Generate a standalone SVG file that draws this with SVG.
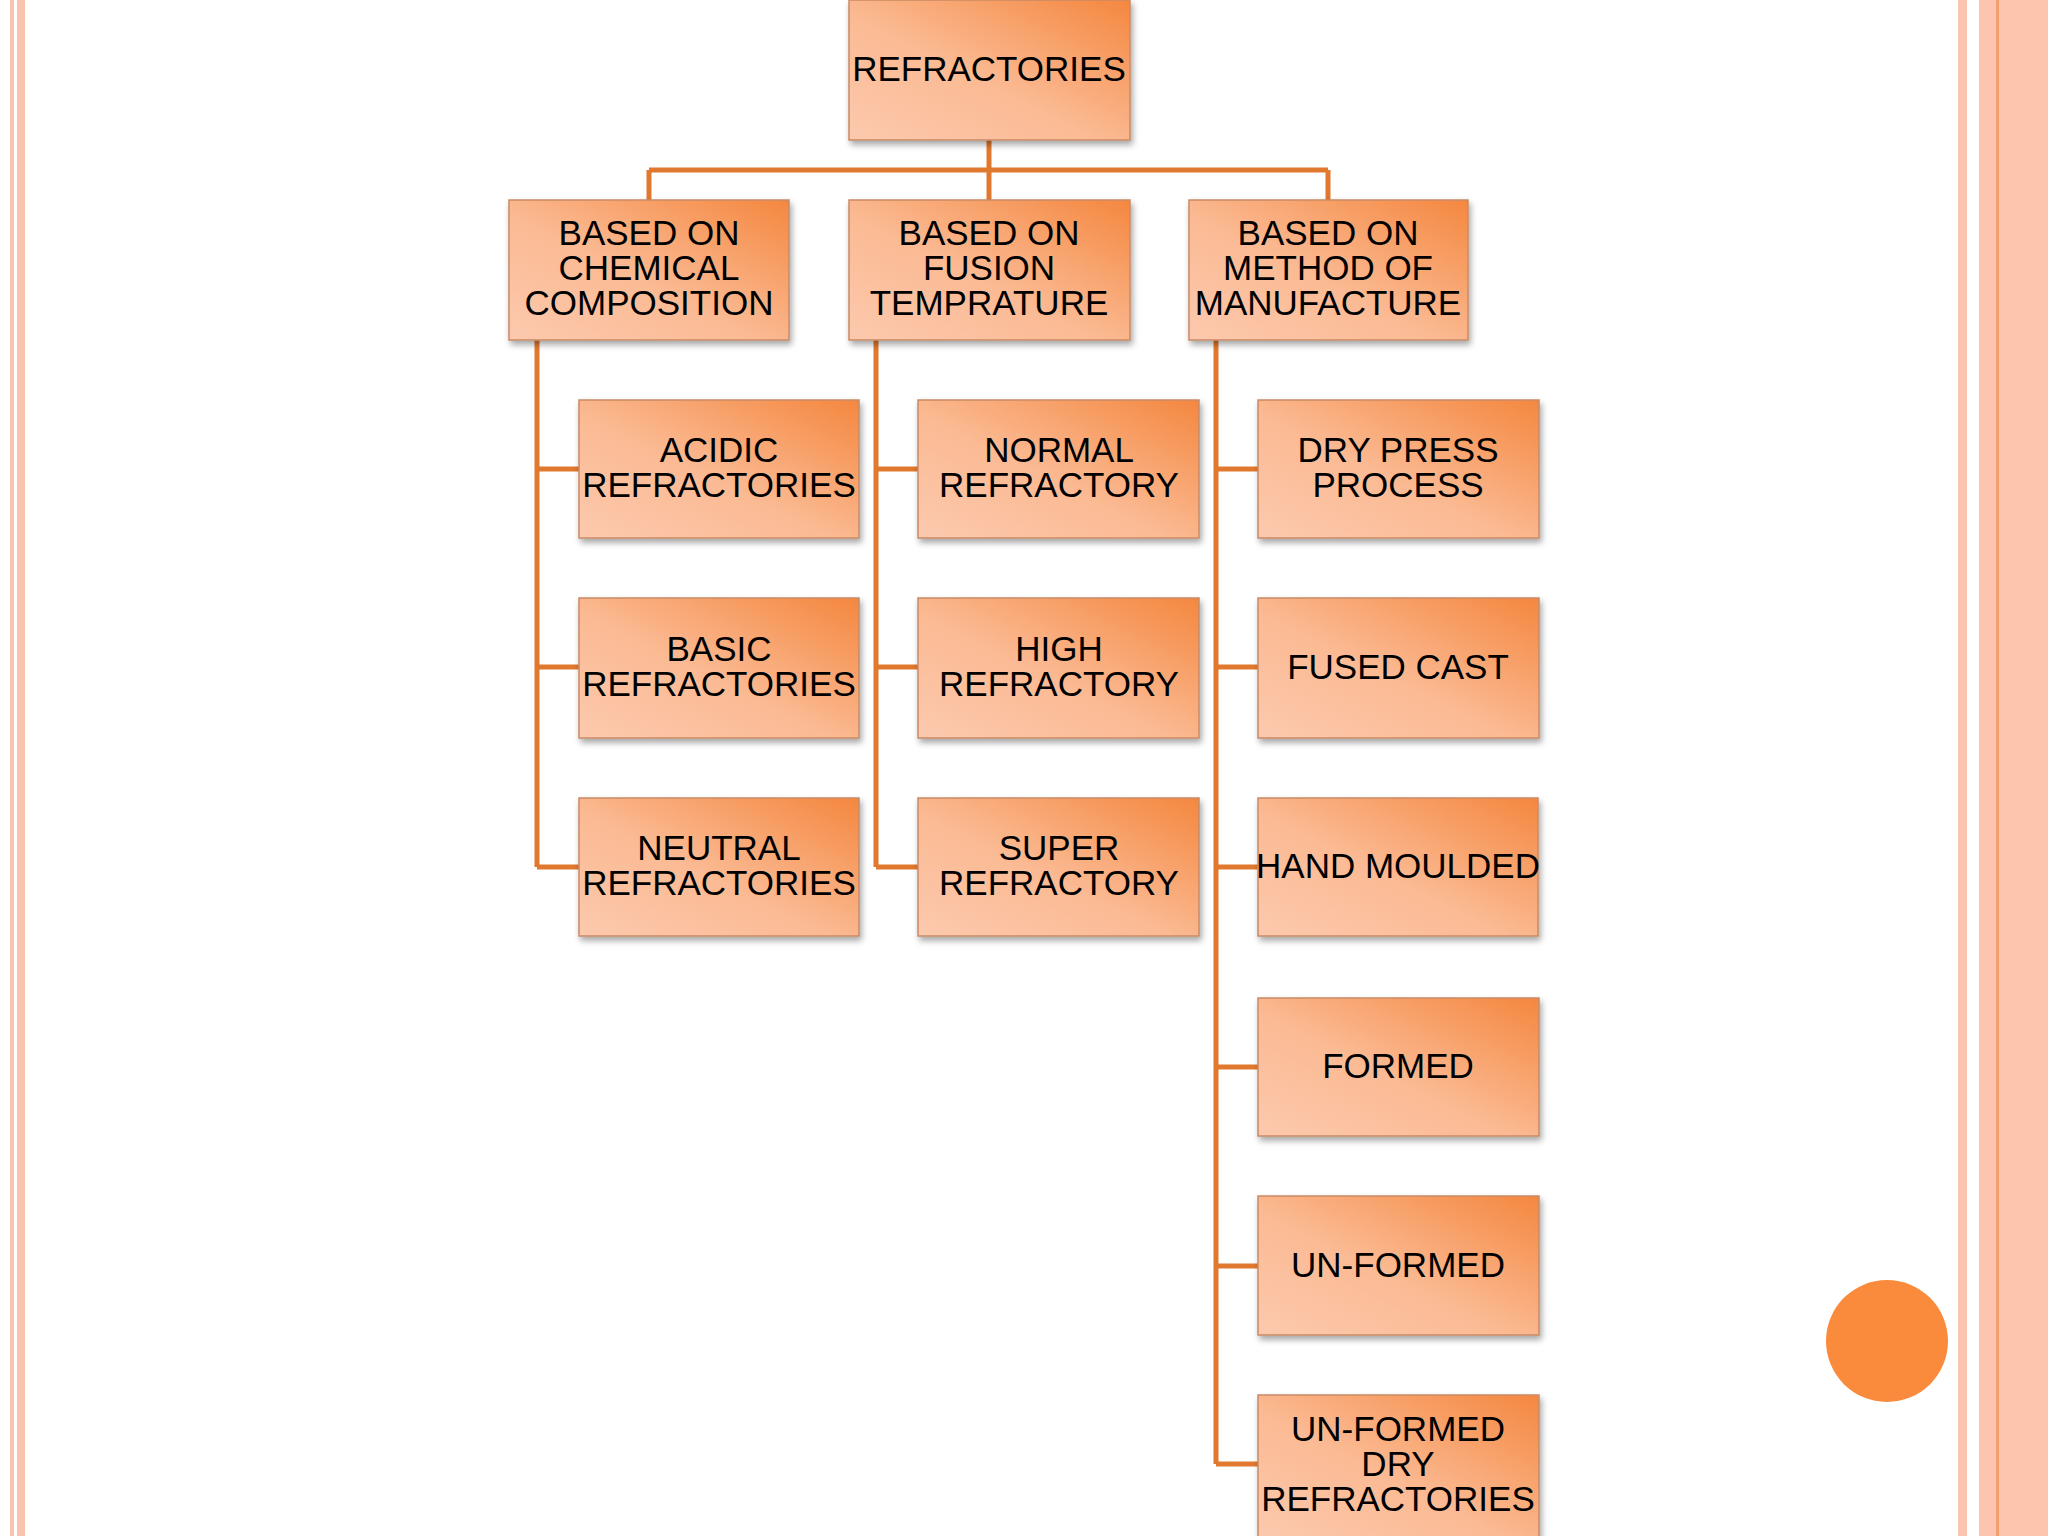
<svg xmlns="http://www.w3.org/2000/svg" width="2048" height="1536" viewBox="0 0 2048 1536">
<defs>
<linearGradient id="g" x1="0" y1="1" x2="1" y2="0">
<stop offset="0" stop-color="#FCC9AE"/>
<stop offset="0.45" stop-color="#FBBA93"/>
<stop offset="1" stop-color="#F4873F"/>
</linearGradient>
<filter id="sh" x="-10%" y="-10%" width="130%" height="130%">
<feDropShadow dx="2" dy="4" stdDeviation="3" flood-color="#000" flood-opacity="0.35"/>
</filter>
<style>
.b{fill:url(#g);stroke:#C98A66;stroke-width:1.5;filter:url(#sh)}
.t{font-family:"Liberation Sans",Arial,sans-serif;font-size:35px;fill:#000;text-anchor:middle}
.c{stroke:#E0782E;stroke-width:5;fill:none}
</style>
</defs>
<rect width="2048" height="1536" fill="#fff"/>
<rect x="10" y="0" width="4" height="1536" fill="#F9C3AE"/>
<rect x="17" y="0" width="8" height="1536" fill="#F9C3AE"/>
<rect x="1958" y="0" width="9" height="1536" fill="#FBC4B0"/>
<rect x="1979" y="0" width="69" height="1536" fill="#FDC5AE"/>
<rect x="1996" y="0" width="3" height="1536" fill="#F4A070"/>
<circle cx="1887" cy="1341" r="61" fill="#FA8A3C"/>
<g id="connectors">
<path class="c" d="M989 140V170M649 170H1328M649 170V200M989 170V200M1328 170V200"/>
<path class="c" d="M537 340V867M537 469H579M537 667H579M537 867H579"/>
<path class="c" d="M876 340V867M876 469H918M876 667H918M876 867H918"/>
<path class="c" d="M1216 340V1464M1216 469H1258M1216 667H1258M1216 867H1258M1216 1067H1258M1216 1266H1258M1216 1464H1258"/>
</g>
<g id="root"><rect class="b" x="849" y="0" width="281" height="140"/><text class="t" x="989" y="81">REFRACTORIES</text></g>
<g id="chem"><rect class="b" x="509" y="200" width="280" height="140"/><text class="t" x="649" y="245">BASED ON</text><text class="t" x="649" y="280">CHEMICAL</text><text class="t" x="649" y="315">COMPOSITION</text></g>
<g id="fusion"><rect class="b" x="849" y="200" width="281" height="140"/><text class="t" x="989" y="245">BASED ON</text><text class="t" x="989" y="280">FUSION</text><text class="t" x="989" y="315">TEMPRATURE</text></g>
<g id="method"><rect class="b" x="1189" y="200" width="279" height="140"/><text class="t" x="1328" y="245">BASED ON</text><text class="t" x="1328" y="280">METHOD OF</text><text class="t" x="1328" y="315">MANUFACTURE</text></g>
<g id="acidic"><rect class="b" x="579" y="400" width="280" height="138"/><text class="t" x="719" y="462">ACIDIC</text><text class="t" x="719" y="497">REFRACTORIES</text></g>
<g id="basic"><rect class="b" x="579" y="598" width="280" height="140"/><text class="t" x="719" y="661">BASIC</text><text class="t" x="719" y="696">REFRACTORIES</text></g>
<g id="neutral"><rect class="b" x="579" y="798" width="280" height="138"/><text class="t" x="719" y="860">NEUTRAL</text><text class="t" x="719" y="895">REFRACTORIES</text></g>
<g id="normal"><rect class="b" x="918" y="400" width="281" height="138"/><text class="t" x="1059" y="462">NORMAL</text><text class="t" x="1059" y="497">REFRACTORY</text></g>
<g id="high"><rect class="b" x="918" y="598" width="281" height="140"/><text class="t" x="1059" y="661">HIGH</text><text class="t" x="1059" y="696">REFRACTORY</text></g>
<g id="super"><rect class="b" x="918" y="798" width="281" height="138"/><text class="t" x="1059" y="860">SUPER</text><text class="t" x="1059" y="895">REFRACTORY</text></g>
<g id="drypress"><rect class="b" x="1258" y="400" width="281" height="138"/><text class="t" x="1398" y="462">DRY PRESS</text><text class="t" x="1398" y="497">PROCESS</text></g>
<g id="fused"><rect class="b" x="1258" y="598" width="281" height="140"/><text class="t" x="1398" y="679">FUSED CAST</text></g>
<g id="hand"><rect class="b" x="1258" y="798" width="280" height="138"/><text class="t" x="1398" y="878">HAND MOULDED</text></g>
<g id="formed"><rect class="b" x="1258" y="998" width="281" height="138"/><text class="t" x="1398" y="1078">FORMED</text></g>
<g id="unformed"><rect class="b" x="1258" y="1196" width="281" height="139"/><text class="t" x="1398" y="1277">UN-FORMED</text></g>
<g id="unformeddry"><rect class="b" x="1258" y="1395" width="281" height="145"/><text class="t" x="1398" y="1441">UN-FORMED</text><text class="t" x="1398" y="1476">DRY</text><text class="t" x="1398" y="1511">REFRACTORIES</text></g>
</svg>
